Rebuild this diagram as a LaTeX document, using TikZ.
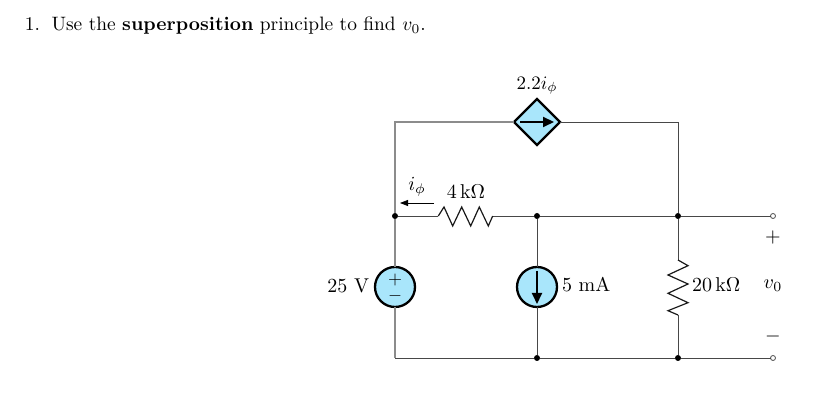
\documentclass[tikz,border=0pt]{standalone}
\usepackage{amsmath}
\usetikzlibrary{shapes.geometric,arrows.meta}
\definecolor{srcblue}{HTML}{A9E6FB}
\tikzset{
  wire/.style={line width=0.45pt,draw=black!72},
  lightwire/.style={line width=0.55pt,draw=black!45},
  res/.style={line width=0.6pt,draw=black!90,line join=miter},
  src/.style={circle,draw=black,line width=1.15pt,fill=srcblue,minimum size=20pt,inner sep=0pt,outer sep=0pt},
  depsrc/.style={diamond,draw=black,line width=1.15pt,fill=srcblue,minimum size=23pt,inner sep=0pt,outer sep=0pt},
  dotn/.style={circle,fill=black,minimum size=3pt,inner sep=0pt,outer sep=0pt},
  opent/.style={circle,draw=black!70,fill=white,line width=0.4pt,minimum size=2.5pt,inner sep=0pt,outer sep=0pt},
  lbl/.style={inner sep=0pt,outer sep=0pt},
  bigarrow/.style={line width=1pt,-{Triangle[length=5.5pt,width=5pt]}},
  smallarrow/.style={line width=0.4pt,-{Triangle[length=4pt,width=3pt]}},
}
\begin{document}
\begin{tikzpicture}[x=0.5pt,y=-0.5pt]
\useasboundingbox (0,0) rectangle (814,415);
% corners and junctions
\coordinate (tl) at (395,122);
\coordinate (tr) at (678,122);
\coordinate (bl) at (395,358);
\node[dotn] (jl) at (395,216) {};
\node[dotn] (jm) at (537,216) {};
\node[dotn] (jr) at (678,216) {};
\node[dotn] (bm) at (537,358) {};
\node[dotn] (br) at (678,358) {};
\node[opent] (ot) at (773,216) {};
\node[opent] (ob) at (773,358) {};
\coordinate (r1a) at (438.3,216);
\coordinate (r1b) at (492.7,216);
\coordinate (r2a) at (678,260);
\coordinate (r2b) at (678,315);
% sources
\node[depsrc] (dep) at (537,122) {};
\node[src] (vs) at (395,287) {};
\node[src] (cs) at (537,287) {};
% wires
\draw[lightwire] (dep.west) -- (tl) -- (jl);
\draw[lightwire] (jl) -- (vs.north);
\draw[lightwire] (vs.south) -- (bl);
\draw[wire] (bl) -- (bm);
\draw[wire] (bm) -- (br);
\draw[wire] (br) -- (ob);
\draw[wire] (dep.east) -- (tr) -- (jr);
\draw[wire] (jl) -- (r1a);
\draw[wire] (r1b) -- (jm);
\draw[wire] (jm) -- (jr);
\draw[wire] (jr) -- (ot);
\draw[wire] (jm) -- (cs.north);
\draw[wire] (cs.south) -- (bm);
\draw[wire] (jr) -- (r2a);
\draw[wire] (r2b) -- (br);
% resistors
\draw[res] (r1a) -- (444,207) -- (452.7,226) -- (461.7,207) -- (470.7,226) -- (479.3,207) -- (488.3,226) -- (r1b);
\draw[res] (r2a) -- (688,265.7) -- (668,275) -- (688,284) -- (668,293.3) -- (688,302.7) -- (668,310.7) -- (r2b);
% arrows in sources
\draw[bigarrow] (520,122) -- (554,122);
\draw[bigarrow] (537,271) -- (537,304);
\node[lbl,scale=.9] at (395,280) {$+$};
\node[lbl,scale=.9] at (395,296) {$-$};
% current direction arrow
\coordinate (ia) at (434,203);
\coordinate (ib) at (400,203);
\draw[smallarrow] (ia) -- (ib);
% labels
\node[lbl,scale=.95] (l1) at (537,85.5) {$2.2i_\phi$};
\node[lbl] (l2) at (417,187) {$i_\phi$};
\node[lbl] (l3) at (466,192) {$4\,\mathrm{k}\Omega$};
\node[lbl,anchor=east] (l4) at (369,286) {25 V};
\node[lbl,anchor=west] (l5) at (562,285) {5 mA};
\node[lbl,anchor=west] (l6) at (692,285) {$20\,\mathrm{k}\Omega$};
\node[lbl] (l7) at (773,286) {$v_0$};
\node[lbl] (l8) at (773,238) {$+$};
\node[lbl] (l9) at (773,337) {$-$};
\node[lbl,anchor=base west,scale=.97] (title) at (25,30.5) {1.\hspace{5.9pt}Use the \textbf{superposition} principle to find $v_0$.};
\end{tikzpicture}
\end{document}
